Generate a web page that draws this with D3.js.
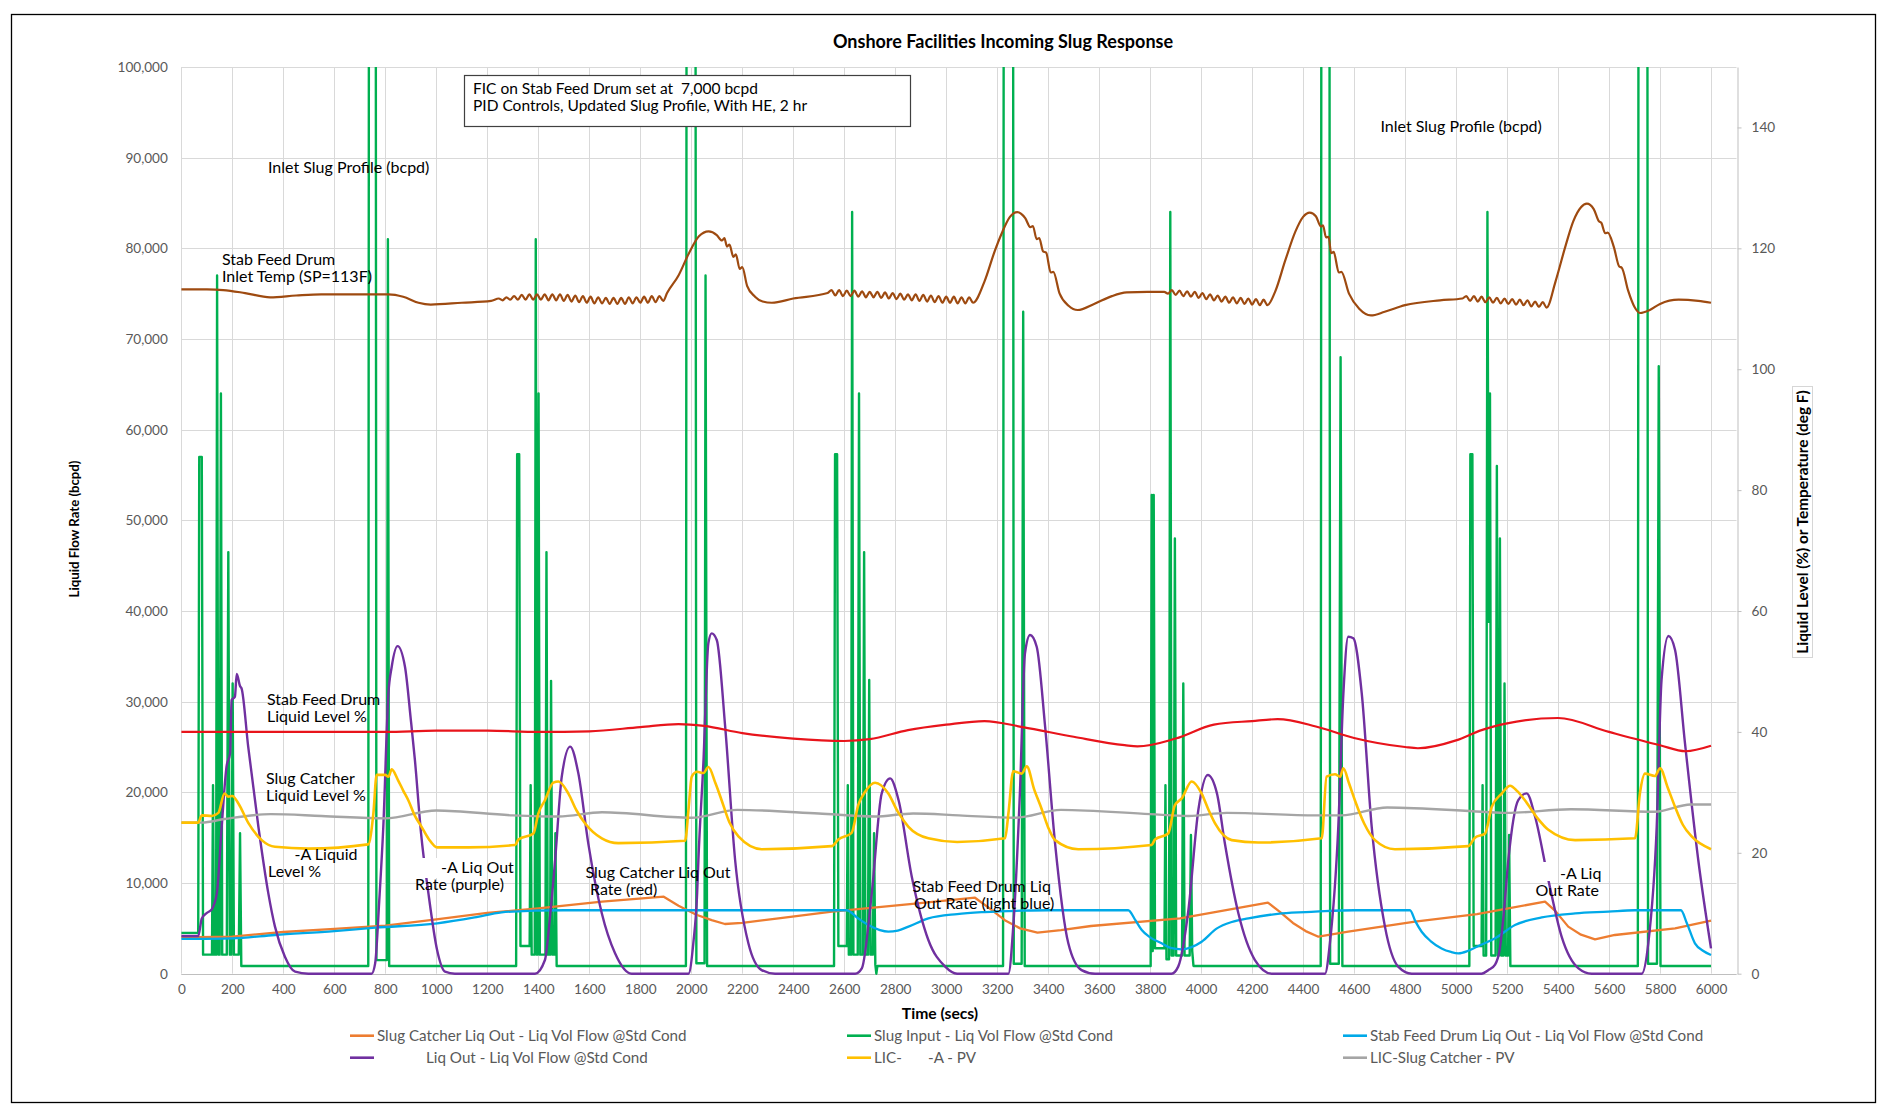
<!DOCTYPE html>
<html><head><meta charset="utf-8">
<script src="https://cdn.jsdelivr.net/npm/d3@7"></script>
<style>
html,body{margin:0;padding:0;background:#fff;}
svg{display:block;font-family:Lato,"Open Sans",sans-serif;}
text{white-space:pre;}
</style></head><body>
<svg id="chart" width="1884" height="1114"></svg>
<script>
// ---------------- DATA ----------------
const chartTitle = "Onshore Facilities Incoming Slug Response";
const xAxisTitle = "Time (secs)";
const leftAxisTitle = "Liquid Flow Rate (bcpd)";
const rightAxisTitle = "Liquid Level (%) or Temperature (deg F)";

const timeTicks = [0,200,400,600,800,1000,1200,1400,1600,1800,2000,2200,2400,2600,2800,3000,3200,3400,3600,3800,4000,4200,4400,4600,4800,5000,5200,5400,5600,5800,6000];
const flowTicks = [0,10000,20000,30000,40000,50000,60000,70000,80000,90000,100000];
const levelTicks = [0,20,40,60,80,100,120,140];

const legendLabels = [
  ["Slug Catcher Liq Out - Liq Vol Flow @Std Cond"],
  ["Slug Input - Liq Vol Flow @Std Cond"],
  ["Stab Feed Drum Liq Out - Liq Vol Flow @Std Cond"],
  ["", "Liq Out - Liq Vol Flow @Std Cond"],
  ["LIC-", "-A - PV"],
  ["LIC-Slug Catcher - PV"]
];

const noteBoxLines = ["FIC on Stab Feed Drum set at  7,000 bcpd", "PID Controls, Updated Slug Profile, With HE, 2 hr"];
const noteInletLeft = ["Inlet Slug Profile (bcpd)"];
const noteInletRight = ["Inlet Slug Profile (bcpd)"];
const noteTemp = ["Stab Feed Drum", "Inlet Temp (SP=113F)"];
const noteDrumLevel = ["Stab Feed Drum", "Liquid Level %"];
const noteCatcherLevel = ["Slug Catcher", "Liquid Level %"];
const noteALevel = ["-A Liquid", "Level %"];
const noteALiqOut = ["-A Liq Out", "Rate (purple)"];
const noteCatcherOut = ["Slug Catcher Liq Out", "Rate (red)"];
const noteDrumOut = ["Stab Feed Drum Liq", "Out Rate (light blue)"];
const noteALiqOut2 = ["-A Liq", "Out Rate"];

// Slug Catcher Liq Out (bcpd) [time, value]
const slugCatcherLiqOut = [[0,4000],[200,4100],[400,4600],[600,4950],[800,5300],[1000,6000],[1200,6700],[1400,7200],[1650,7950],[1892,8490],[1950,7500],[2020,6500],[2080,5900],[2132,5480],[2200,5600],[2342,6110],[2552,6840],[2868,7690],[3113,8380],[3170,7200],[3230,5900],[3290,5000],[3358,4520],[3450,4800],[3568,5260],[3917,6110],[4262,7830],[4310,6800],[4360,5600],[4410,4700],[4460,4080],[4577,4630],[4839,5740],[5082,6580],[5349,7950],[5390,6900],[5440,5190],[5490,4300],[5545,3790],[5623,4270],[5859,5000],[6000,5850]];

// Slug Input (bcpd)
const slugInput = [[0,4500],[66,4500],
 [70,57000],[80,57000],[85,2100],[120,2100],[124,20800],[128,2100],[136,2100],[140,77000],[145,2100],[150,2100],[155,64000],[160,2100],[178,2100],[184,46500],[190,2100],[196,2100],[201,32000],[206,2100],[225,2100],[230,15500],[235,850],
 [733,850],[736,130000],[762,130000],[765,1500],[806,1500],[810,81000],[815,850],
 [1313,850],[1317,57300],[1325,57300],[1330,3050],[1366,3050],[1370,20800],[1374,2100],[1386,2100],[1390,81000],[1395,2100],[1397,2100],[1401,64000],[1406,2100],[1428,2100],[1432,46500],[1437,2100],[1446,2100],[1450,32300],[1455,2100],[1463,2100],[1467,15500],[1472,850],
 [1979,850],[1982,130000],[2016,130000],[2020,1150],[2052,1150],[2056,77000],[2062,850],
 [2560,850],[2564,57300],[2572,57300],[2577,3050],[2610,3050],[2614,20800],[2618,2100],[2627,2100],[2631,84000],[2636,2100],[2653,2100],[2658,64000],[2663,2100],[2673,2100],[2678,46500],[2683,2100],[2693,2100],[2698,32400],[2703,2100],[2712,2100],[2717,15500],[2722,1000],[2726,0],[2730,850],
 [3223,850],[3226,130000],[3262,130000],[3265,1100],[3296,1100],[3302,73000],[3308,850],
 [3802,850],[3806,52800],[3810,2500],[3814,52800],[3819,2800],[3856,2800],[3860,20800],[3864,1600],[3874,1600],[3879,84000],[3884,2000],[3892,2000],[3897,48000],[3902,2000],[3925,2000],[3930,32000],[3935,2000],[3955,2000],[3960,15300],[3965,2500],[3970,850],
 [4469,850],[4472,130000],[4503,130000],[4506,1100],[4540,1100],[4547,68000],[4554,850],
 [5052,850],[5056,57300],[5064,57300],[5069,3050],[5100,3050],[5104,20800],[5108,2000],[5118,2000],[5123,84000],[5128,38800],[5133,64000],[5138,2000],[5155,2000],[5160,56000],[5165,2000],[5168,2000],[5172,48000],[5177,2000],[5186,2000],[5190,32000],[5195,2000],[5204,2000],[5208,15300],[5213,850],
 [5713,850],[5716,130000],[5750,130000],[5753,1100],[5788,1100],[5795,67000],[5802,850],
 [6000,850]];

// Stab Feed Drum Liq Out (bcpd)
const stabFeedDrumLiqOut = [[0,3830],[200,3900],[367,4270],[600,4700],[760,5080],[1003,5550],[1150,6200],[1256,6770],[1387,6950],[1500,7000],[2610,7000],[2650,6200],[2695,5370],[2740,4800],[2773,4630],[2810,4750],[2852,5190],[2930,6100],[3043,6580],[3150,6800],[3296,6950],[3400,7000],[3714,7000],[3740,6000],[3767,4820],[3800,4000],[3845,3350],[3880,2850],[3924,2690],[3960,2900],[4002,3530],[4062,5000],[4120,5700],[4185,6100],[4316,6650],[4447,6840],[4600,7000],[4819,7000],[4840,5800],[4865,4630],[4900,3600],[4943,2790],[4980,2400],[5009,2250],[5045,2500],[5082,2980],[5153,3900],[5231,5370],[5336,6210],[5467,6650],[5597,6840],[5700,7000],[5882,7000],[5905,5600],[5937,3350],[5970,2500],[6000,2060]];

// -A Liq Out (bcpd)
const aLiqOut = [[0,4150],[66,4150],[80,6100],[100,6700],[119,7100],[139,8860],[158,16210],[177,22830],[191,24300],[197,30190],[210,30550],[217,33050],[230,31720],[236,31470],[262,25040],[302,16210],[341,8860],[367,5190],[406,1880],[446,220],[498,0],[746,0],[760,1140],[776,8000],[792,16210],[812,30920],[825,33860],[848,36130],[877,33860],[900,28000],[916,23560],[940,15500],[969,8860],[1003,2610],[1034,220],[1073,0],[1387,0],[1426,1510],[1445,6000],[1466,12540],[1492,21730],[1525,25040],[1557,22100],[1596,14380],[1649,6660],[1701,2250],[1766,0],[1989,0],[2008,3350],[2023,8860],[2028,12540],[2048,23560],[2067,36430],[2080,37540],[2100,36800],[2133,27240],[2172,12540],[2224,3350],[2276,400],[2329,0],[2643,0],[2669,590],[2708,8860],[2747,19890],[2780,21540],[2813,19150],[2865,10700],[2930,3720],[2996,780],[3043,0],[3244,0],[3263,5190],[3289,19890],[3309,35330],[3329,37350],[3355,36060],[3388,27240],[3427,14380],[3479,3350],[3531,400],[3584,0],[3884,0],[3910,780],[3950,7020],[3989,18050],[4026,21910],[4062,19890],[4093,14380],[4146,6660],[4211,1510],[4277,0],[4486,0],[4505,3350],[4538,16210],[4558,30920],[4577,37170],[4597,37000],[4630,30920],[4669,16210],[4721,5190],[4773,780],[4826,0],[5100,0],[5127,400],[5153,1000],[5170,2500],[5185,6000],[5205,12540],[5244,19150],[5277,19890],[5310,17310],[5362,10330],[5414,4080],[5480,590],[5532,0],[5728,0],[5754,3350],[5787,16210],[5806,32390],[5833,37240],[5859,35700],[5898,25400],[5950,12540],[6000,2800]];

// LIC- -A - PV (%)
const licAPV = [[0,25.0],[66,25.0],[80,26.2],[119,26.1],[145,26.6],[169,29.8],[184,29.3],[200,29.4],[223,28.2],[263,24.9],[315,22.1],[367,21.0],[498,20.7],[733,21.4],[753,26.5],[766,32.9],[799,32.9],[812,32.6],[825,33.8],[850,32.0],[870,30.3],[890,28.7],[915,26.2],[942,24.3],[970,22.3],[1003,20.9],[1126,20.9],[1309,21.3],[1322,22.2],[1381,23.2],[1400,26.5],[1426,28.7],[1459,31.6],[1479,31.8],[1518,29.8],[1550,27.0],[1583,24.9],[1649,22.4],[1714,21.6],[1976,22.0],[1989,27.1],[2002,32.6],[2023,33.4],[2048,33.2],[2067,34.2],[2095,31.5],[2119,28.7],[2150,25.0],[2185,22.7],[2276,20.6],[2551,21.1],[2577,22.2],[2629,23.3],[2655,27.9],[2682,30.1],[2721,31.6],[2773,29.8],[2810,26.8],[2852,24.3],[2930,22.4],[3043,21.8],[3231,22.4],[3244,26.5],[3263,33.5],[3296,33.1],[3316,34.3],[3345,30.5],[3374,27.3],[3400,24.2],[3427,22.1],[3518,20.6],[3806,21.3],[3819,22.2],[3871,23.2],[3897,27.9],[3924,29.0],[3963,31.8],[4002,29.8],[4030,27.0],[4054,24.9],[4120,22.1],[4224,21.7],[4473,22.4],[4492,32.6],[4525,33.0],[4545,32.6],[4558,34.0],[4580,31.5],[4603,28.7],[4640,24.8],[4682,22.1],[4760,20.6],[5048,21.1],[5074,22.5],[5114,23.2],[5140,27.6],[5179,29.8],[5212,31.1],[5240,30.2],[5270,28.7],[5320,25.7],[5362,23.8],[5467,22.1],[5702,22.4],[5721,29.8],[5741,33.1],[5780,32.7],[5800,34.0],[5830,30.8],[5859,27.6],[5890,24.6],[5924,22.7],[6000,20.6]];

// LIC-Slug Catcher - PV (%)
const licSlugCatcherPV = [[0,25.0],[80,25.0],[170,25.6],[350,26.4],[550,26.1],[800,25.7],[1000,27.0],[1300,26.2],[1480,26.0],[1650,26.7],[2000,25.8],[2180,27.1],[2500,26.5],[2720,26.0],[2870,26.5],[3050,26.2],[3270,25.8],[3450,27.1],[3800,26.4],[3950,26.1],[4100,26.6],[4450,26.2],[4550,26.2],[4730,27.5],[5100,26.8],[5200,26.6],[5450,27.2],[5780,26.8],[5920,28.0],[6000,28.0]];

// Stab Feed Drum Liquid Level (%)
const stabFeedDrumLevel = [[0,40.0],[200,40.0],[400,40.0],[600,40.0],[800,40.0],[1000,40.2],[1200,40.2],[1400,40.0],[1600,40.1],[1800,40.8],[1950,41.3],[2050,41.0],[2200,39.8],[2400,38.9],[2600,38.5],[2700,38.8],[2850,40.3],[3000,41.2],[3150,41.8],[3300,40.8],[3500,39.2],[3700,37.8],[3750,37.6],[3900,38.9],[4050,41.2],[4200,41.8],[4300,42.1],[4450,40.9],[4600,39.0],[4800,37.5],[4850,37.3],[5000,38.6],[5100,40.3],[5200,41.4],[5400,42.3],[5600,40.0],[5800,37.8],[5900,36.8],[6000,37.7]];

// Stab Feed Drum Inlet Temp (deg F)
const stabFeedDrumInletTemp = [[0,113.2],[100,113.2],[164,113.1],[250,112.6],[348,111.9],[450,112.2],[549,112.4],[812,112.4],[870,112.0],[930,111.0],[978,110.7],[1100,111.0],[1215,111.3],[1245,111.7],[1260,111.4],[1275,111.9],[1290,111.5],
 [1305,112.1],[1320,111.5],[1335,112.3],[1350,111.5],[1365,112.4],[1380,111.5],[1395,112.4],[1410,111.5],[1425,112.4],[1440,111.4],[1455,112.4],[1470,111.4],[1485,112.4],[1500,111.3],[1515,112.3],[1530,111.2],[1545,112.2],[1560,111.1],[1575,112.1],[1590,111.0],[1605,112.0],[1620,110.9],[1635,111.9],[1650,110.9],[1665,111.8],[1680,110.8],[1695,111.8],[1710,110.8],[1725,111.8],[1740,110.8],[1755,111.9],[1770,110.9],[1785,111.9],[1800,111.0],[1815,112.0],[1830,111.0],[1845,112.1],[1860,111.1],[1875,112.1],[1890,111.3],
 [1905,112.6],[1950,115.5],[1991,119.2],[2030,122.0],[2068,122.8],[2100,122.2],[2120,121.3],[2130,121.7],[2140,120.3],[2150,120.6],[2165,118.6],[2175,119.0],[2190,116.6],[2200,116.9],[2219,113.8],[2250,112.0],[2280,111.2],[2316,111.0],[2400,111.7],[2535,112.6],
 [2550,113.1],[2565,112.2],[2580,113.1],[2595,112.1],[2610,113.0],[2625,112.1],[2640,113.0],[2655,112.0],[2670,112.9],[2685,111.9],[2700,112.8],[2715,111.9],[2730,112.8],[2745,111.8],[2760,112.7],[2775,111.7],[2790,112.6],[2805,111.6],[2820,112.5],[2835,111.5],[2850,112.4],[2865,111.4],[2880,112.4],[2895,111.3],[2910,112.3],[2925,111.2],[2940,112.2],[2955,111.1],[2970,112.1],[2985,111.0],[3000,112.0],[3015,111.0],[3030,112.0],[3045,110.9],[3060,111.9],[3075,110.9],[3090,111.9],[3105,111.0],
 [3150,114.5],[3190,119.5],[3218,122.5],[3250,125.2],[3279,126.0],[3310,125.0],[3330,123.5],[3340,123.7],[3355,121.5],[3365,121.7],[3380,119.5],[3392,119.3],[3410,116.0],[3420,116.1],[3445,112.5],[3480,110.5],[3516,109.8],[3580,110.8],[3650,112.1],[3708,112.7],[3790,112.8],[3855,112.8],
 [3870,112.5],[3885,113.1],[3900,112.3],[3915,113.0],[3930,112.1],[3945,112.9],[3960,112.0],[3975,112.8],[3990,111.8],[4005,112.6],[4020,111.6],[4035,112.4],[4050,111.4],[4065,112.2],[4080,111.2],[4095,112.0],[4110,111.0],[4125,111.9],[4140,110.9],[4155,111.8],[4170,110.8],[4185,111.7],[4200,110.7],[4215,111.6],[4230,110.6],[4245,111.5],[4260,110.6],
 [4290,112.8],[4330,118.0],[4370,122.8],[4400,125.2],[4426,125.9],[4450,125.3],[4470,123.6],[4478,123.8],[4490,121.8],[4500,121.9],[4510,119.2],[4520,119.4],[4540,116.0],[4550,116.1],[4580,112.5],[4620,110.0],[4666,108.9],[4720,109.5],[4800,110.6],[4937,111.4],[5025,111.7],
 [5040,112.1],[5055,111.3],[5070,112.1],[5085,111.2],[5100,112.0],[5115,111.1],[5130,111.9],[5145,111.0],[5160,111.8],[5175,110.9],[5190,111.7],[5205,110.8],[5220,111.6],[5235,110.7],[5250,111.5],[5265,110.6],[5280,111.4],[5295,110.4],[5310,111.2],[5325,110.3],[5340,111.1],[5355,110.2],
 [5390,114.5],[5430,120.5],[5460,124.5],[5490,126.8],[5513,127.4],[5540,126.5],[5560,124.5],[5570,124.2],[5585,122.5],[5595,122.6],[5619,120.2],[5640,117.0],[5650,116.8],[5675,113.0],[5700,110.3],[5722,109.3],[5760,109.8],[5800,110.8],[5873,111.5],[5950,111.3],[6000,111.0]];

// ---------------- DRAWING ----------------
const svg = d3.select("#chart");
const P = {left:181.4, right:1736.5, top:67, bottom:973.7};
const x = d3.scaleLinear().domain([0,6100]).range([P.left,P.right]);
const yL = d3.scaleLinear().domain([0,100000]).range([P.bottom,P.top]);
const yR = d3.scaleLinear().domain([0,150]).range([P.bottom,P.top]);

const COL = {orange:"#ED7D31", green:"#00B050", blue:"#00A9E8", purple:"#7030A0", yellow:"#FFC000", grey:"#A5A5A5", red:"#E8141B", brown:"#9E4A10"};
const legendColors = [COL.orange, COL.green, COL.blue, COL.purple, COL.yellow, COL.grey];

svg.append("rect").attr("width",1884).attr("height",1114).attr("fill","#fff");
svg.append("rect").attr("x",11.5).attr("y",14.5).attr("width",1864).attr("height",1088)
  .attr("fill","none").attr("stroke","#000").attr("stroke-width",1.3);

svg.append("text").attr("x",1003).attr("y",47.5).attr("text-anchor","middle")
  .attr("font-weight","bold").attr("font-size",18).attr("fill","#000").text(chartTitle);

// grid
const grid = svg.append("g").attr("stroke","#d9d9d9").attr("stroke-width",1);
grid.selectAll("line.h").data(flowTicks).join("line").attr("class","h")
  .attr("x1",P.left).attr("x2",P.right).attr("y1",d=>Math.round(yL(d))+0.5).attr("y2",d=>Math.round(yL(d))+0.5);
grid.selectAll("line.v").data(timeTicks).join("line").attr("class","v")
  .attr("y1",P.top).attr("y2",P.bottom).attr("x1",d=>Math.round(x(d))+0.5).attr("x2",d=>Math.round(x(d))+0.5);

svg.append("line").attr("x1",P.left).attr("x2",P.right).attr("y1",Math.round(P.bottom)+0.5).attr("y2",Math.round(P.bottom)+0.5).attr("stroke","#bfbfbf");

// left axis
const gL = svg.append("g").attr("transform",`translate(${P.left},0)`)
  .call(d3.axisLeft(yL).tickValues(flowTicks).tickFormat(d3.format(",")).tickSize(0).tickPadding(13.5));
gL.select(".domain").remove();
gL.selectAll("text").attr("font-family","Lato").attr("font-size",13.6).attr("fill","#595959");

// right axis
const gR = svg.append("g").attr("transform",`translate(${Math.round(P.right)+0.5},0)`)
  .call(d3.axisRight(yR).tickValues(levelTicks).tickSize(4).tickSizeOuter(0).tickPadding(10));
gR.select(".domain").attr("stroke","#bfbfbf");
gR.selectAll(".tick line").attr("stroke","#bfbfbf");
gR.selectAll("text").attr("font-family","Lato").attr("font-size",13.6).attr("fill","#595959");

// bottom axis
const gB = svg.append("g").attr("transform",`translate(0,${P.bottom})`)
  .call(d3.axisBottom(x).tickValues(timeTicks).tickFormat(d3.format("d")).tickSize(0).tickPadding(11));
gB.select(".domain").remove();
gB.selectAll("text").attr("font-family","Lato").attr("font-size",13.6).attr("fill","#595959");

// axis titles
svg.append("text").attr("x",940).attr("y",1019).attr("text-anchor","middle").attr("font-weight","bold")
  .attr("font-size",15.7).attr("fill","#000").text(xAxisTitle);
svg.append("text").attr("transform","translate(79,529) rotate(-90)").attr("text-anchor","middle")
  .attr("font-weight","bold").attr("font-size",13.2).attr("fill","#000").text(leftAxisTitle);
svg.append("rect").attr("x",1792.5).attr("y",386.5).attr("width",20).attr("height",271)
  .attr("fill","#fff").attr("stroke","#d6d6d6");
svg.append("text").attr("transform","translate(1808,522) rotate(-90)").attr("text-anchor","middle")
  .attr("font-weight","bold").attr("font-size",15.4).attr("fill","#000").text(rightAxisTitle);

// clip
svg.append("clipPath").attr("id","plotclip").append("rect")
  .attr("x",P.left-5).attr("y",P.top).attr("width",P.right-P.left+5).attr("height",P.bottom-P.top+10);
const plot = svg.append("g").attr("clip-path","url(#plotclip)");

function draw(data, ys, color, curve, w){
  plot.append("path").datum(data).attr("fill","none").attr("stroke",color)
    .attr("stroke-width",w).attr("stroke-linejoin","round").attr("stroke-linecap","butt")
    .attr("d", d3.line().x(d=>x(d[0])).y(d=>ys(d[1])).curve(curve));
}
draw(slugInput, yL, COL.green, d3.curveLinear, 2.4);
draw(slugCatcherLiqOut, yL, COL.orange, d3.curveLinear, 2.3);
draw(stabFeedDrumLiqOut, yL, COL.blue, d3.curveMonotoneX, 2.3);
draw(aLiqOut, yL, COL.purple, d3.curveMonotoneX, 2.4);
draw(licSlugCatcherPV, yR, COL.grey, d3.curveMonotoneX, 2.4);
draw(licAPV, yR, COL.yellow, d3.curveMonotoneX, 2.6);
draw(stabFeedDrumLevel, yR, COL.red, d3.curveMonotoneX, 2.2);
draw(stabFeedDrumInletTemp, yR, COL.brown, d3.curveMonotoneX, 2.2);

// redaction patches over labels
svg.append("rect").attr("x",417).attr("y",858).attr("width",22).attr("height",20).attr("fill","#fff");
svg.append("rect").attr("x",1536).attr("y",862).attr("width",21).attr("height",19).attr("fill","#fff");

// annotations
function note(lines, xs, ys, size){
  const t = svg.append("text").attr("font-size",size||16).attr("fill","#000");
  lines.forEach((l,i)=>{ t.append("tspan").attr("x",xs[i]).attr("y",ys[i]).text(l); });
}
svg.append("rect").attr("x",464.5).attr("y",75.5).attr("width",446).attr("height",51)
  .attr("fill","#fff").attr("stroke","#404040").attr("stroke-width",1.2);
note(noteBoxLines,[473,473],[94,111],15.5);
note(noteInletLeft,[268],[172.5]);
note(noteInletRight,[1380.5],[132]);
note(noteTemp,[222,222],[265,282]);
note(noteDrumLevel,[267,267],[705,722]);
note(noteCatcherLevel,[266,266],[783.5,800.5]);
note(noteALevel,[294.5,268],[860,877]);
note(noteALiqOut,[441,415],[873,890]);
note(noteCatcherOut,[585.5,590],[878,895]);
note(noteDrumOut,[912.5,914],[891.5,908.5]);
note(noteALiqOut2,[1560,1535.5],[879,896]);

// legend
const legX = [350, 847, 1343];
const legY = [1035.7, 1057.7];
legendLabels.forEach((parts,i)=>{
  const lx = legX[i%3], ly = legY[Math.floor(i/3)];
  svg.append("line").attr("x1",lx).attr("x2",lx+24).attr("y1",ly).attr("y2",ly)
    .attr("stroke",legendColors[i]).attr("stroke-width",2.6);
  const t = svg.append("text").attr("y",ly+5.2).attr("font-size",15.2).attr("fill","#595959");
  if(parts.length===1){
    t.append("tspan").attr("x",lx+27).text(parts[0]);
  } else {
    if(parts[0]) t.append("tspan").attr("x",lx+27).text(parts[0]);
    t.append("tspan").attr("x", i===3 ? 426 : lx+81).text(parts[1]);
  }
});
</script>
</body></html>
